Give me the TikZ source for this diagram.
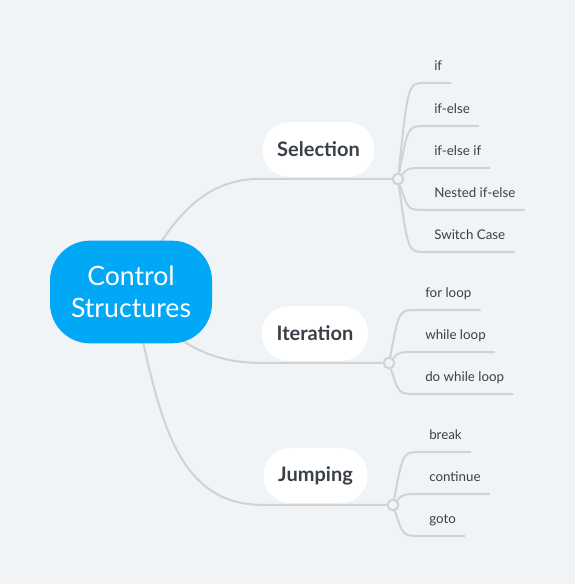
\documentclass[tikz,border=0pt]{standalone}
\usepackage{fontspec}
\setmainfont{Lato}
\usetikzlibrary{backgrounds}
\definecolor{canvas}{HTML}{F0F4F7}
\definecolor{branchline}{HTML}{CFD3D6}
\definecolor{rootblue}{HTML}{00A8F5}
\definecolor{inkdark}{HTML}{3A4047}
\tikzset{
    root/.style={fill=rootblue, text=white, rounded corners=30pt, minimum width=121.5pt,
        minimum height=77pt, align=center, font=\fontsize{20}{24}\selectfont},
    topic/.style={fill=white, text=inkdark, rounded corners=20pt, minimum height=41pt,
        inner xsep=11pt, outer sep=1.5pt, font=\fontsize{15}{18}\selectfont\bfseries},
    joint/.style={circle, draw=branchline, fill=canvas, line width=1.5pt, minimum size=8pt, inner sep=0pt},
    leaf/.style={anchor=south west, text=inkdark, inner xsep=6.75pt, inner ysep=0pt,
        text depth=9pt, font=\fontsize{10}{12}\selectfont},
    link/.style={draw=branchline, line width=1.5pt}
}
\begin{document}
\begin{tikzpicture}[x=0.75pt, y=-0.75pt]
    \node[root] (cs) at (131, 292) {Control\\Structures};
    \node[topic] (sel) at (318.5, 149.5) {Selection};
    \node[topic] (itr) at (315, 333.5) {Iteration};
    \node[topic] (jmp) at (315.5, 475.5) {Jumping};
    \node[joint] (sel-dot) at (398, 179) {};
    \node[joint] (itr-dot) at (389, 363) {};
    \node[joint] (jmp-dot) at (393, 505) {};

    \foreach \n/\txt/\y in {1/if/83, 2/if-else/126, 3/if-else if/168, 4/Nested if-else/210, 5/Switch Case/252}
        \node[leaf] (sel\n) at (425, \y) {\txt};
    \foreach \n/\txt/\y in {1/for loop/310, 2/while loop/352, 3/do while loop/394}
        \node[leaf] (itr\n) at (416, \y) {\txt};
    \foreach \n/\txt/\y in {1/break/452, 2/continue/494, 3/goto/536}
        \node[leaf] (jmp\n) at (420, \y) {\txt};

    \begin{pgfonlayer}{background}
        \fill[canvas] (0, 0) rectangle (575, 584);
        \draw[link]
        (cs.center) to[out=60, in=180] (sel.south west) -- (sel-dot)
        (cs.center) to[out=-50, in=180] (itr.south west) -- (itr-dot)
        (cs.center) to[out=-75, in=180] (jmp.south west) -- (jmp-dot);
        \foreach \n/\y in {1/83, 2/126, 3/168, 4/210, 5/252}
            \draw[link] (sel-dot) .. controls (408, \y) .. (sel\n.south west) -- (sel\n.south east);
        \foreach \n/\y in {1/310, 2/352, 3/394}
            \draw[link] (itr-dot) .. controls (399, \y) .. (itr\n.south west) -- (itr\n.south east);
        \foreach \n/\y in {1/452, 2/494, 3/536}
            \draw[link] (jmp-dot) .. controls (403, \y) .. (jmp\n.south west) -- (jmp\n.south east);
    \end{pgfonlayer}
\end{tikzpicture}
\end{document}
